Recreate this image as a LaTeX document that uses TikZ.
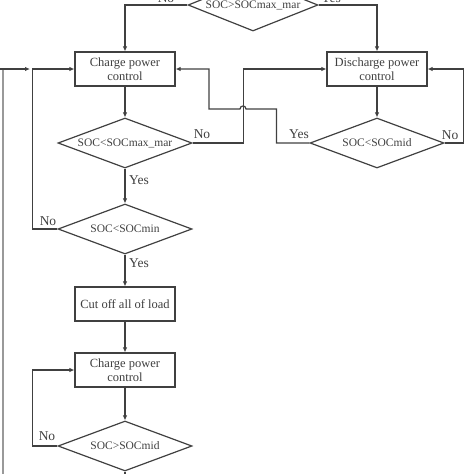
\documentclass[tikz,border=0pt]{standalone}
\usepackage{fontspec}
\setmainfont{Liberation Serif}
\usetikzlibrary{shapes.geometric}
\usetikzlibrary{arrows.meta}

\begin{document}
\begin{tikzpicture}[x=1pt,y=-1pt,line width=1.2pt,color=black!75,
    box/.style={draw,rectangle,minimum width=100pt,minimum height=34pt,inner sep=0pt,align=center,font=\fontsize{12.5}{14}\selectfont},
    test/.style={draw,diamond,aspect=2.7,minimum width=134pt,minimum height=50pt,inner sep=0pt,font=\fontsize{11.5}{13}\selectfont},
    arr/.style={-{Latex[length=5pt,width=4.5pt]}},
    lbl/.style={font=\fontsize{13.5}{15}\selectfont}]
  \useasboundingbox (0,0) rectangle (474,474);
  \clip (0,0) rectangle (474,474);
  % decision blocks and actions
  \node[test,minimum width=130pt,minimum height=52pt] (top) at (253,5) {SOC>SOCmax\_mar};
  \node[box] (chg) at (125,69) {Charge power\\control};
  \node[box] (dis) at (377,69) {Discharge power\\control};
  \node[test] (maxq) at (125,143) {SOC<SOCmax\_mar};
  \node[test] (midq) at (377,143) {SOC<SOCmid};
  \node[test] (minq) at (125,229) {SOC<SOCmin};
  \node[box] (cut) at (125,304) {Cut off all of load};
  \node[box] (chg2) at (125,370) {Charge power\\control};
  \node[test] (midq2) at (125,446) {SOC>SOCmid};
  \coordinate (inlet) at (30,69);
  % branches of the top test
  \draw[arr] (top.west) -| (chg.north);
  \draw[arr] (top.east) -| (dis.north);
  \node[lbl,anchor=base] at (166,2) {No};
  \node[lbl,anchor=base] at (331,2) {Yes};
  \draw[arr] (chg) -- (maxq);
  \draw[arr] (dis) -- (midq);
  \draw[arr] (maxq.east) -- ++(51,0) |- (dis.west);
  \node[lbl] at (202,134) {No};
  \draw[arr] (midq.west) -- ++(-33,0) -- ++(0,-34) -- (246,109)
    .. controls (246,105) and (240,105) .. (240,109) -- (209,109) |- (chg.east);
  \node[lbl] at (299,134) {Yes};
  \draw[arr] (midq.east) -- ++(19,0) |- (dis.east);
  \node[lbl] at (450,135) {No};
  \draw[arr] (maxq) -- (minq);
  \node[lbl] at (139,180) {Yes};
  \draw[arr] (minq.west) -- ++(-25,0) |- (chg.west);
  \node[lbl] at (48,221) {No};
  \draw[arr] (minq) -- (cut);
  \node[lbl] at (139,263) {Yes};
  \draw[arr] (cut) -- (chg2);
  \draw[arr] (chg2) -- (midq2);
  \draw[arr] (midq2.west) -- ++(-25,0) |- (chg2.west);
  \node[lbl] at (47,436) {No};
  \draw (midq2.south) -- ++(0,10);
  % return line at the left edge
  \draw[black!40,line width=1.5pt] (3,480) -- (3,69);
  \draw[arr] (0,69) -- (inlet);
\end{tikzpicture}
\end{document}
